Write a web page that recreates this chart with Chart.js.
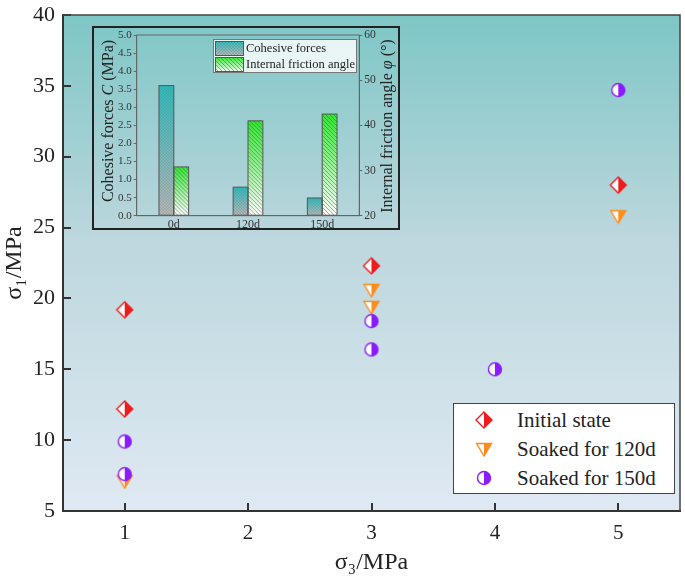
<!DOCTYPE html>
<html>
<head>
<meta charset="utf-8">
<script src="https://cdn.jsdelivr.net/npm/chart.js@4.4.0/dist/chart.umd.min.js"></script>
<style>
  body { margin: 0; background: #fff; }
  #wrap { position: relative; width: 685px; height: 581px; font-family: "Liberation Serif", serif; color: #222; }
  #main { position: absolute; left: 0; top: 0; }
  #insetBox { position: absolute; left: 92px; top: 26px; width: 308px; height: 204px; border: 2px solid #222; box-sizing: border-box; }
  #inset { position: absolute; left: 0; top: 0; }
  .vtitle { position: absolute; width: 200px; height: 18px; line-height: 18px; text-align: center; font-size: 16px; white-space: nowrap; transform: rotate(-90deg); }
  #insetLegend { position: absolute; left: 213px; top: 39px; width: 144px; height: 34px; border: 1px solid #777; background: rgba(255,255,255,0.82); box-sizing: border-box; font-size: 12.5px; }
  #insetLegend .row { position: absolute; left: 0; height: 15px; line-height: 15px; white-space: nowrap; }
  #insetLegend canvas { position: absolute; left: 1px; top: 0; }
  #insetLegend span { position: absolute; left: 32px; top: 0; }
  #legend { position: absolute; left: 453px; top: 403px; width: 222px; height: 91px; border: 1.5px solid #444; background: #fff; box-sizing: border-box; font-size: 21px; }
  #legend .row { position: absolute; left: 0; height: 28px; line-height: 28px; white-space: nowrap; }
  #legend canvas { position: absolute; left: 20px; top: 4px; }
  #legend span { position: absolute; left: 63px; top: 0; }
</style>
</head>
<body>
<div id="wrap">
  <canvas id="main" width="685" height="581"></canvas>
  <div id="insetBox"><canvas id="inset" width="304" height="200"></canvas></div>
  <div class="vtitle" style="left:8px; top:112px;">Cohesive forces <i>C</i> (MPa)</div>
  <div class="vtitle" style="left:287px; top:117px;">Internal friction angle <i>φ</i> (°)</div>
  <div id="insetLegend"></div>
  <div id="legend"></div>
</div>
<script>
// main scatter: sigma3 vs sigma1
const initX = [1, 1, 3, 5];
const initY = [19.2, 12.2, 22.3, 28.0];
const s120X = [1, 3, 3, 5];
const s120Y = [7.1, 20.6, 19.4, 25.8];
const s150X = [1, 1, 3, 3, 4, 5];
const s150Y = [9.9, 7.6, 18.4, 16.4, 15.0, 34.7];
const xTicks = [1, 2, 3, 4, 5];
const seriesNames = ['Initial state', 'Soaked for 120d', 'Soaked for 150d'];

// inset bars
const ages = ['0d', '120d', '150d'];
const cohesion = [3.6, 0.79, 0.49];
const friction = [30.8, 41.0, 42.5];
const barNames = ['Cohesive forces', 'Internal friction angle'];
const angleMin = 20, angleMax = 60;

const serif = 'Liberation Serif';

function marker(shape, color) {
  const s = 20, c = document.createElement('canvas');
  c.width = s; c.height = s;
  const g = c.getContext('2d');
  const m = s / 2;
  g.beginPath();
  if (shape === 'diamond') {
    g.moveTo(m, m - 8); g.lineTo(m + 8, m); g.lineTo(m, m + 8); g.lineTo(m - 8, m); g.closePath();
  } else if (shape === 'tri') {
    g.moveTo(m - 7.5, m - 5.5); g.lineTo(m + 7.5, m - 5.5); g.lineTo(m, m + 7); g.closePath();
  } else {
    g.arc(m, m, 6.5, 0, Math.PI * 2);
  }
  g.fillStyle = '#fff'; g.fill();
  g.save(); g.clip(); g.fillStyle = color; g.fillRect(m, 0, m, s); g.restore();
  g.lineWidth = 1.4; g.strokeStyle = color; g.stroke();
  return c;
}

const mkRed = marker('diamond', '#ee1c1c');
const mkOrange = marker('tri', '#ff8c1a');
const mkPurple = marker('circle', '#8a1cff');

function pts(xs, ys) { return xs.map((x, i) => ({ x: x, y: ys[i] })); }

const mainPlugin = {
  id: 'mainBg',
  beforeDraw(chart) {
    const a = chart.chartArea, g = chart.ctx;
    const gr = g.createLinearGradient(0, a.top, 0, a.bottom);
    gr.addColorStop(0, '#7ec6c6');
    gr.addColorStop(0.45, '#bcd7dd');
    gr.addColorStop(1, '#dfe9f3');
    g.save(); g.fillStyle = gr; g.fillRect(a.left, a.top, a.right - a.left, a.bottom - a.top); g.restore();
  },
  afterDraw(chart) {
    const a = chart.chartArea, g = chart.ctx;
    g.save(); g.strokeStyle = '#444'; g.lineWidth = 1.5;
    g.beginPath(); g.moveTo(a.left, a.top); g.lineTo(a.right, a.top); g.lineTo(a.right, a.bottom); g.stroke();
    g.restore();
  }
};

new Chart(document.getElementById('main'), {
  type: 'scatter',
  data: {
    datasets: [
      { label: seriesNames[0], data: pts(initX, initY), pointStyle: mkRed, order: 3 },
      { label: seriesNames[1], data: pts(s120X, s120Y), pointStyle: mkOrange, order: 2 },
      { label: seriesNames[2], data: pts(s150X, s150Y), pointStyle: mkPurple, order: 1 }
    ]
  },
  options: {
    responsive: false,
    animation: false,
    layout: { padding: { top: 15, right: 4, left: 0, bottom: 0 } },
    plugins: { legend: { display: false }, tooltip: { enabled: false } },
    scales: {
      x: {
        type: 'linear', min: 0.5, max: 5.5,
        afterBuildTicks: s => { s.ticks = xTicks.map(v => ({ value: v })); },
        afterFit: s => { s.height = 70; s.paddingLeft = 0; s.paddingRight = 0; },
        grid: { drawOnChartArea: false, tickLength: -8, color: '#333', lineWidth: 2 },
        border: { color: '#333', width: 2 },
        ticks: { padding: 18, color: '#222', font: { family: serif, size: 21 } },
        title: { display: true, text: 'σ₃/MPa', color: '#222', font: { family: serif, size: 24 }, padding: { top: 0, bottom: 4 } }
      },
      y: {
        min: 5, max: 40,
        afterFit: s => { s.width = 63; s.paddingTop = 0; s.paddingBottom = 0; },
        grid: { drawOnChartArea: false, tickLength: -8, color: '#333', lineWidth: 2 },
        border: { color: '#333', width: 2 },
        ticks: { stepSize: 5, padding: 16, color: '#222', font: { family: serif, size: 22 } },
        title: { display: true, text: 'σ₁/MPa', color: '#222', font: { family: serif, size: 24 }, padding: { top: 0, bottom: 0 } }
      }
    }
  },
  plugins: [mainPlugin]
});

// hatch helpers for the bars
function hatchRect(g, x0, y0, w, h, kind) {
  g.save();
  g.beginPath(); g.rect(x0, y0, w, h); g.clip();
  g.lineWidth = 0.8;
  g.beginPath();
  const gap = kind === 'cross' ? 3 : 4;
  for (let k = -h; k < w + h; k += gap) {
    g.moveTo(x0 + k, y0); g.lineTo(x0 + k + h, y0 + h);
    if (kind === 'cross') { g.moveTo(x0 + k, y0 + h); g.lineTo(x0 + k + h, y0); }
  }
  g.strokeStyle = kind === 'cross' ? 'rgba(110,110,110,0.35)' : 'rgba(70,70,70,0.6)';
  g.stroke();
  g.restore();
}

const barTop = ['#25c2c4', '#35e635'];
const barBottom = ['#bdbdbd', '#ffffff'];
const hatchKind = ['cross', 'line'];

function barGrad(c) {
  const chart = c.chart;
  if (c.type !== 'data') return barTop[c.datasetIndex];
  const ds = chart.data.datasets[c.datasetIndex];
  const sc = chart.scales[ds.yAxisID];
  if (!sc) return barTop[c.datasetIndex];
  const y0 = sc.getPixelForValue(c.raw), y1 = sc.getPixelForValue(sc.min);
  if (!isFinite(y0) || !isFinite(y1) || y0 === y1) return barTop[c.datasetIndex];
  const gr = chart.ctx.createLinearGradient(0, y0, 0, y1);
  gr.addColorStop(0, barTop[c.datasetIndex]);
  gr.addColorStop(1, barBottom[c.datasetIndex]);
  return gr;
}

const insetPlugin = {
  id: 'insetHatch',
  afterDatasetsDraw(chart) {
    const g = chart.ctx;
    chart.data.datasets.forEach((ds, di) => {
      chart.getDatasetMeta(di).data.forEach(bar => {
        const p = bar.getProps(['x', 'y', 'base', 'width'], true);
        const x0 = p.x - p.width / 2, h = p.base - p.y;
        hatchRect(g, x0, p.y, p.width, h, hatchKind[di]);
        g.save(); g.strokeStyle = '#555'; g.lineWidth = 1; g.strokeRect(x0, p.y, p.width, h); g.restore();
      });
    });
  },
  afterDraw(chart) {
    const a = chart.chartArea, g = chart.ctx;
    g.save(); g.strokeStyle = '#666'; g.lineWidth = 1;
    g.strokeRect(a.left, a.top, a.right - a.left, a.bottom - a.top);
    g.restore();
  }
};

new Chart(document.getElementById('inset'), {
  type: 'bar',
  data: {
    labels: ages,
    datasets: [
      { label: barNames[0], data: cohesion, yAxisID: 'y', backgroundColor: barGrad, borderWidth: 0, categoryPercentage: 0.4, barPercentage: 1 },
      { label: barNames[1], data: friction, yAxisID: 'y1', base: angleMin, backgroundColor: barGrad, borderWidth: 0, categoryPercentage: 0.4, barPercentage: 1 }
    ]
  },
  options: {
    responsive: false,
    animation: false,
    layout: { padding: { top: 7, left: 0, right: 0, bottom: 0 } },
    plugins: { legend: { display: false }, tooltip: { enabled: false } },
    scales: {
      x: {
        afterFit: s => { s.height = 12.3; s.paddingLeft = 0; s.paddingRight = 0; },
        grid: { display: false, drawTicks: false },
        border: { color: '#666', width: 1 },
        ticks: { padding: 2, color: '#333', font: { family: serif, size: 12 } }
      },
      y: {
        position: 'left', min: 0, max: 5,
        afterFit: s => { s.width = 42.7; s.paddingTop = 0; s.paddingBottom = 0; },
        grid: { drawOnChartArea: false, tickLength: 3, color: '#666' },
        border: { color: '#666', width: 1 },
        ticks: { stepSize: 0.5, padding: 2, color: '#333', font: { family: serif, size: 11 }, callback: v => v.toFixed(1) }
      },
      y1: {
        position: 'right', min: angleMin, max: angleMax, beginAtZero: false,
        afterFit: s => { s.width = 38.7; s.paddingTop = 0; s.paddingBottom = 0; },
        grid: { drawOnChartArea: false, tickLength: 3, color: '#666' },
        border: { color: '#666', width: 1 },
        ticks: { stepSize: 10, padding: 2, color: '#333', font: { family: serif, size: 11.5 } }
      }
    }
  },
  plugins: [insetPlugin]
});

// inset legend
const insetLegend = document.getElementById('insetLegend');
barNames.forEach((name, i) => {
  const row = document.createElement('div');
  row.className = 'row';
  row.style.top = (1 + i * 16) + 'px';
  row.style.width = '140px';
  const c = document.createElement('canvas');
  c.width = 29; c.height = 15;
  const g = c.getContext('2d');
  const gr = g.createLinearGradient(0, 0, 0, 15);
  gr.addColorStop(0, barTop[i]); gr.addColorStop(1, barBottom[i]);
  g.fillStyle = gr; g.fillRect(0, 0, 29, 15);
  hatchRect(g, 0, 0, 29, 15, hatchKind[i]);
  g.strokeStyle = '#555'; g.lineWidth = 1; g.strokeRect(0.5, 0.5, 28, 14);
  const t = document.createElement('span');
  t.textContent = name;
  row.appendChild(c); row.appendChild(t);
  insetLegend.appendChild(row);
});

// main legend
const legend = document.getElementById('legend');
[mkRed, mkOrange, mkPurple].forEach((mk, i) => {
  const row = document.createElement('div');
  row.className = 'row';
  row.style.top = (2 + i * 29) + 'px';
  row.style.width = '218px';
  const c = document.createElement('canvas');
  c.width = 20; c.height = 20;
  c.getContext('2d').drawImage(mk, 0, 0);
  const t = document.createElement('span');
  t.textContent = seriesNames[i];
  row.appendChild(c); row.appendChild(t);
  legend.appendChild(row);
});
</script>
</body>
</html>
